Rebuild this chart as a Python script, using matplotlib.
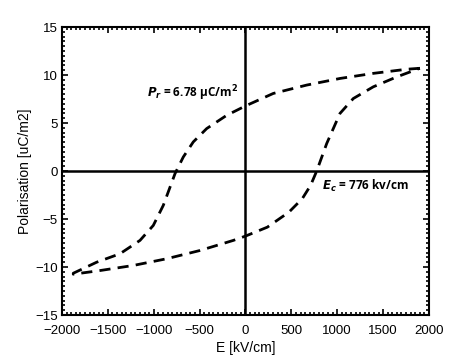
import numpy as np
import matplotlib.pyplot as plt
from matplotlib.ticker import MultipleLocator

# hysteresis loop (E in kV/cm, P in uC/m2)
# descending branch: +E max -> -E max
e_down = [1900, 1757, 1393, 1030, 667, 303, 0, -205, -423, -569, -678, -768,
          -896, -1005, -1150, -1368, -1622, -1877]
p_down = [10.7, 10.6, 10.17, 9.64, 8.95, 8.08, 6.78, 5.8, 4.42, 3.03, 1.46, -0.27,
          -3.58, -5.67, -7.23, -8.62, -9.5, -10.65]
# ascending branch: -E max -> +E max
e_up = [-1877, -1586, -1223, -859, -496, -133, 0, 238, 474, 619, 710, 776,
        885, 1030, 1175, 1393, 1648, 1900]
p_up = [-10.75, -10.37, -9.84, -9.14, -8.28, -7.23, -6.78, -5.85, -4.28, -2.88, -1.49, 0,
        2.86, 6.0, 7.55, 8.77, 9.8, 10.7]

plt.rcParams['font.family'] = ['Liberation Sans', 'DejaVu Sans']

fig = plt.figure(figsize=(4.74, 3.55), dpi=100)
ax = fig.add_axes([62 / 474, 1 - 315 / 355, 367 / 474, 288 / 355])

ax.axhline(0, color='black', lw=1.8, zorder=1)
ax.axvline(0, color='black', lw=1.8, zorder=1)

e_loop = e_down + e_up
p_loop = p_down + p_up
ax.plot(e_loop, p_loop, color='black', lw=2, ls=(0, (4, 2.6)), zorder=2)

ax.set_xlim(-2000, 2000)
ax.set_ylim(-15, 15)
ax.xaxis.set_major_locator(MultipleLocator(500))
ax.xaxis.set_minor_locator(MultipleLocator(50))
ax.yaxis.set_major_locator(MultipleLocator(5))
ax.yaxis.set_minor_locator(MultipleLocator(0.5))
ax.tick_params(which='both', direction='in', top=True, right=True, width=1.2)
ax.tick_params(which='major', length=4, labelsize=9.5)
ax.tick_params(axis='x', which='major', pad=7)
ax.tick_params(axis='y', which='major', pad=3)
ax.tick_params(which='minor', length=2)
for sp in ax.spines.values():
    sp.set_linewidth(1.5)

ax.set_xlabel('E [kV/cm]', fontsize=10, labelpad=3)
ax.set_ylabel('Polarisation [uC/m2]', fontsize=10, labelpad=2)

ax.text(-1073, 8.1, r'$\mathbfit{P_r}$ = 6.78 μC/m$^\mathbf{2}$', fontsize=8.5,
        fontweight='bold', va='center', ha='left', family=['Open Sans', 'DejaVu Sans'])
ax.text(834, -1.6, r'$\mathbfit{E_c}$ = 776 kv/cm', fontsize=8.5,
        fontweight='bold', va='center', ha='left', family=['Open Sans', 'DejaVu Sans'])

fig.savefig('out.png', dpi=100)
